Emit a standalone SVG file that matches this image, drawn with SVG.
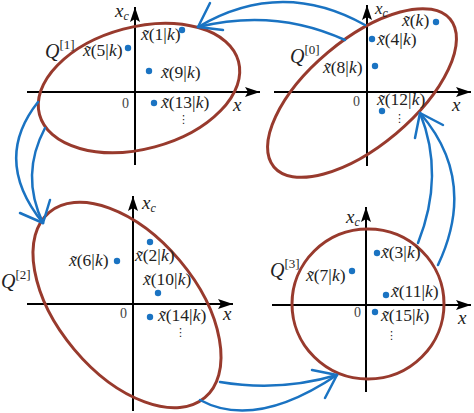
<svg xmlns="http://www.w3.org/2000/svg" width="474" height="413" viewBox="0 0 474 413">
<defs>
<marker id="ah" markerUnits="userSpaceOnUse" markerWidth="16" markerHeight="11" refX="15" refY="5" orient="auto">
<path d="M0,0 L15,5 L0,10 L3,5 z" fill="#000"/>
</marker>
<style>
.ax{stroke:#000;stroke-width:2;fill:none}
.el{stroke:#983a2d;stroke-width:3;fill:none}
.dot{fill:#1a73c2}
.cn{stroke:#1a73c2;stroke-width:2.5;fill:none;stroke-linecap:round;stroke-linejoin:round}
.t{font-family:"Liberation Serif",serif;font-size:17.5px;fill:#222}
.i{font-style:italic}
.z{font-family:"Liberation Serif",serif;font-size:14px;fill:#444}
.q{font-family:"Liberation Serif",serif;font-size:20px;font-style:italic;fill:#222}
.s{font-family:"Liberation Serif",serif;font-size:13px;font-style:normal}
.ax2{font-family:"Liberation Serif",serif;font-size:19px;font-style:italic;fill:#222}
.ax3{font-family:"Liberation Serif",serif;font-size:17px;font-style:italic;fill:#222}
.sub{font-size:12px}
.vd{font-family:"DejaVu Sans",sans-serif;font-size:11px;fill:#222}
</style>
</defs>
<rect width="474" height="413" fill="#fff"/>

<g id="Q1">
<line class="ax" x1="27" y1="92" x2="260" y2="92" marker-end="url(#ah)"/>
<line class="ax" x1="135" y1="165" x2="135" y2="7" marker-end="url(#ah)"/>
<ellipse class="el" cx="139" cy="88" rx="103" ry="61" transform="rotate(-15 139 88)"/>
<text class="ax2" x="115" y="17">x<tspan class="sub" dy="3">c</tspan></text>
<text class="ax2" x="233" y="111">x</text>
<text class="z" x="122" y="108">0</text>
<text class="q" x="45" y="58">Q<tspan class="s" dy="-9">[1]</tspan></text>
<circle class="dot" cx="182" cy="30" r="3.2"/>
<circle class="dot" cx="128" cy="48" r="3.2"/>
<circle class="dot" cx="149" cy="71" r="3.2"/>
<circle class="dot" cx="154" cy="103" r="3.2"/>
<text class="t" x="141" y="40"><tspan class="i">x̃</tspan>(1|<tspan class="i">k</tspan>)</text>
<text class="t" x="83" y="56"><tspan class="i">x̃</tspan>(5|<tspan class="i">k</tspan>)</text>
<text class="t" x="161" y="78"><tspan class="i">x̃</tspan>(9|<tspan class="i">k</tspan>)</text>
<text class="t" x="161" y="108"><tspan class="i">x̃</tspan>(13|<tspan class="i">k</tspan>)</text>
<text class="vd" x="178" y="123">⋮</text>
</g>

<g id="Q0">
<line class="ax" x1="274" y1="92" x2="471" y2="92" marker-end="url(#ah)"/>
<line class="ax" x1="367" y1="166" x2="367" y2="5" marker-end="url(#ah)"/>
<ellipse class="el" cx="362" cy="93" rx="115" ry="53" transform="rotate(-40 362 93)"/>
<text class="ax3" x="375" y="14">x<tspan class="sub" dy="3">c</tspan></text>
<text class="ax2" x="452" y="111">x</text>
<text class="z" x="353" y="106">0</text>
<text class="q" x="290" y="63">Q<tspan class="s" dy="-9">[0]</tspan></text>
<circle class="dot" cx="436" cy="22" r="3.2"/>
<circle class="dot" cx="372" cy="39" r="3.2"/>
<circle class="dot" cx="375" cy="66" r="3.2"/>
<circle class="dot" cx="382" cy="111" r="3.2"/>
<text class="t" x="402" y="26"><tspan class="i">x̃</tspan>(<tspan class="i">k</tspan>)</text>
<text class="t" x="377" y="45"><tspan class="i">x̃</tspan>(4|<tspan class="i">k</tspan>)</text>
<text class="t" x="323" y="73"><tspan class="i">x̃</tspan>(8|<tspan class="i">k</tspan>)</text>
<text class="t" x="377" y="105"><tspan class="i">x̃</tspan>(12|<tspan class="i">k</tspan>)</text>
<text class="vd" x="394" y="122">⋮</text>
</g>

<g id="Q2">
<line class="ax" x1="27" y1="304" x2="233" y2="304" marker-end="url(#ah)"/>
<line class="ax" x1="133" y1="411" x2="133" y2="196" marker-end="url(#ah)"/>
<ellipse class="el" cx="127" cy="305" rx="121" ry="69" transform="rotate(50 127 305)"/>
<text class="ax2" x="142" y="209">x<tspan class="sub" dy="3">c</tspan></text>
<text class="ax2" x="223" y="320">x</text>
<text class="z" x="120" y="318">0</text>
<text class="q" x="1" y="288">Q<tspan class="s" dy="-9">[2]</tspan></text>
<circle class="dot" cx="150" cy="242" r="3.2"/>
<circle class="dot" cx="117" cy="261" r="3.2"/>
<circle class="dot" cx="158" cy="293" r="3.2"/>
<circle class="dot" cx="150" cy="317" r="3.2"/>
<text class="t" x="135" y="261"><tspan class="i">x̃</tspan>(2|<tspan class="i">k</tspan>)</text>
<text class="t" x="69" y="266"><tspan class="i">x̃</tspan>(6|<tspan class="i">k</tspan>)</text>
<text class="t" x="143" y="285"><tspan class="i">x̃</tspan>(10|<tspan class="i">k</tspan>)</text>
<text class="t" x="158" y="321"><tspan class="i">x̃</tspan>(14|<tspan class="i">k</tspan>)</text>
<text class="vd" x="175" y="336">⋮</text>
</g>

<g id="Q3">
<line class="ax" x1="272" y1="305" x2="471" y2="305" marker-end="url(#ah)"/>
<line class="ax" x1="366" y1="392" x2="366" y2="207" marker-end="url(#ah)"/>
<ellipse class="el" cx="368" cy="304" rx="76" ry="75"/>
<text class="ax2" x="346" y="223">x<tspan class="sub" dy="3">c</tspan></text>
<text class="ax2" x="458" y="324">x</text>
<text class="z" x="354" y="317">0</text>
<text class="q" x="270" y="277">Q<tspan class="s" dy="-9">[3]</tspan></text>
<circle class="dot" cx="377" cy="253" r="3.2"/>
<circle class="dot" cx="352" cy="271" r="3.2"/>
<circle class="dot" cx="386" cy="295" r="3.2"/>
<circle class="dot" cx="375" cy="312" r="3.2"/>
<text class="t" x="381" y="258"><tspan class="i">x̃</tspan>(3|<tspan class="i">k</tspan>)</text>
<text class="t" x="306" y="281"><tspan class="i">x̃</tspan>(7|<tspan class="i">k</tspan>)</text>
<text class="t" x="391" y="297"><tspan class="i">x̃</tspan>(11|<tspan class="i">k</tspan>)</text>
<text class="t" x="381" y="321"><tspan class="i">x̃</tspan>(15|<tspan class="i">k</tspan>)</text>
<text class="vd" x="386" y="339">⋮</text>
</g>

<g id="connectors">
<path class="cn" d="M365,25 Q281,-22 198,27"/>
<path class="cn" d="M345,40 Q275,8 198,27"/>
<path class="cn" d="M210,3 L198,27 L223,30"/>
<path class="cn" d="M38,102 Q-8,160 43,223"/>
<path class="cn" d="M45,128 Q20,175 43,223"/>
<path class="cn" d="M20,213 L43,223 L50,200"/>
<path class="cn" d="M220,382 Q280,392 337,375"/>
<path class="cn" d="M200,400 Q255,430 337,375"/>
<path class="cn" d="M312,370 L337,375 L325,398"/>
<path class="cn" d="M418,243 Q445,175 420,113"/>
<path class="cn" d="M438,265 Q478,180 420,113"/>
<path class="cn" d="M415,138 L420,113 L443,125"/>
</g>
</svg>
